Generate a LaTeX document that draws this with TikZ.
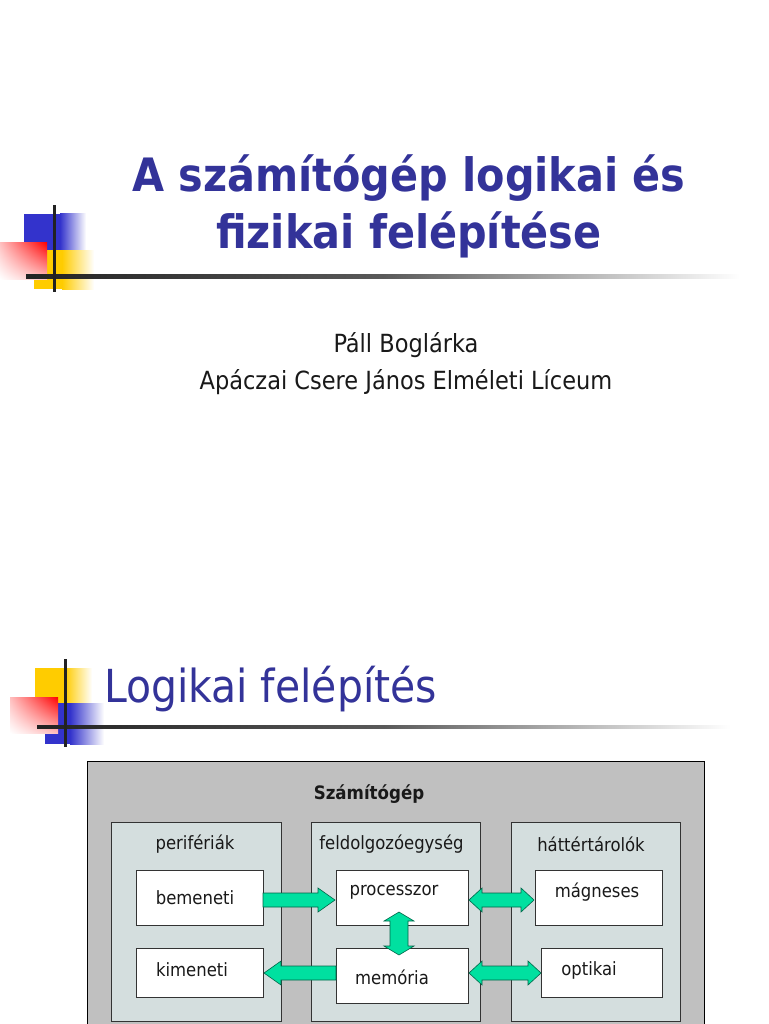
\documentclass[tikz,border=0pt]{standalone}
\usepackage{fontspec}
\setmainfont{DejaVu Sans Condensed}
\usetikzlibrary{shadings}
\definecolor{ttl}{RGB}{51,51,153}
\definecolor{bluesq}{RGB}{51,51,204}
\definecolor{yelsq}{RGB}{255,204,0}
\definecolor{grayfill}{RGB}{192,192,192}
\definecolor{panel}{RGB}{212,222,222}
\definecolor{arrowc}{RGB}{0,224,160}
\definecolor{pinkc}{RGB}{255,190,190}
\definecolor{inkc}{RGB}{34,34,34}
\tikzset{
  x=1pt,y=-1pt,
  outerbox/.style={draw=black,fill=grayfill,line width=.8pt},
  panelbox/.style={draw=black!80,fill=panel,line width=.8pt},
  itembox/.style={draw=black!80,fill=white,line width=.8pt,inner sep=0pt},
  lab/.style={inner sep=0pt,font=\fontsize{18.3}{20}\selectfont,text=black!90},
  arr/.style={draw=black!55!arrowc,fill=arrowc,line width=.6pt},
  redsq/.style={upper right=red,upper left=pinkc,lower right=pinkc,lower left=white},
}
\begin{document}
\begin{tikzpicture}
\useasboundingbox (0,0) rectangle (768,1024);
\fill[white] (0,0) rectangle (768,1024);
% top decoration
\fill[bluesq] (24,214) rectangle (60,250);
\shade[left color=bluesq,right color=white] (60,214) rectangle (86,250);
\fill[yelsq] (34,250) rectangle (62,289);
\shade[left color=yelsq,right color=white] (62,250) rectangle (94,289);
\shade[redsq] (0,242) rectangle (47,279);
\shade[left color=inkc,right color=white,middle color=black!65] (26,274) rectangle (740,278.5);
\fill[inkc] (53,205) rectangle (55.5,292);
% title
\node[font=\bfseries\fontsize{46}{57}\selectfont,text=ttl,align=center,inner sep=0pt] (title) at (409,206.5) {A számítógép logikai és\\fizikai felépítése};
\node[font=\fontsize{25}{37}\selectfont,text=black!90,align=center,inner sep=0pt] (sub) at (406,364) {Páll Boglárka\\Apáczai Csere János Elméleti Líceum};
% second decoration
\fill[yelsq] (35,668) rectangle (65,703);
\shade[left color=yelsq,right color=white] (65,668) rectangle (92,703);
\fill[bluesq] (45,703) rectangle (70,744);
\shade[left color=bluesq,right color=white] (70,703) rectangle (104,744);
\shade[redsq] (10,697) rectangle (58,733);
\shade[left color=inkc,right color=white,middle color=black!65] (37,725.5) rectangle (730,728.5);
\fill[inkc] (64,659) rectangle (66.5,747);
\node[font=\fontsize{45.5}{50}\selectfont,text=ttl,anchor=west,inner sep=0pt] (head) at (104,689) {Logikai felépítés};
% diagram
\path[outerbox] (87,761.5) rectangle (704.5,1040);
\path[panelbox] (111,822) rectangle (281,1021);
\path[panelbox] (311,822) rectangle (480.5,1021);
\path[panelbox] (511,822) rectangle (680.5,1021);
\node[lab,font=\bfseries\fontsize{18.5}{20}\selectfont] (szg) at (369,794.5) {Számítógép};
\node[lab] (per) at (195,844) {perifériák};
\node[lab] (fel) at (391.5,844) {feldolgozóegység};
\node[lab] (hat) at (591,844) {háttértárolók};
\node[itembox,minimum width=127pt,minimum height=55pt] (bem) at (199.5,897.5) {};
\node[itembox,minimum width=127pt,minimum height=49pt] (kim) at (199.5,972.5) {};
\node[itembox,minimum width=132pt,minimum height=55pt] (pro) at (402,897.5) {};
\node[itembox,minimum width=132pt,minimum height=55pt] (mem) at (402,975.5) {};
\node[itembox,minimum width=127pt,minimum height=55pt] (mag) at (598.5,897.5) {};
\node[itembox,minimum width=121pt,minimum height=49pt] (opt) at (601.5,972.5) {};
\node[lab] (tbem) at (195,898) {bemeneti};
\node[lab] (tkim) at (192,970) {kimeneti};
\node[lab] (tpro) at (394,892) {processzor};
\node[lab] (tmem) at (392,977) {memória};
\node[lab] (tmag) at (597,892) {mágneses};
\node[lab] (topt) at (589,970) {optikai};
% arrows
\draw[arr] (263,893) -- (318,893) -- (318,888) -- (335,900) -- (318,912) -- (318,907) -- (263,907) -- cycle;
\draw[arr] (336,966) -- (281,966) -- (281,961) -- (264,973) -- (281,985) -- (281,980) -- (336,980) -- cycle;
\draw[arr] (469,900) -- (482,888) -- (482,893) -- (521,893) -- (521,888) -- (534,900) -- (521,912) -- (521,907) -- (482,907) -- (482,912) -- cycle;
\draw[arr] (469,973) -- (482,961) -- (482,966) -- (528,966) -- (528,961) -- (541,973) -- (528,985) -- (528,980) -- (482,980) -- (482,985) -- cycle;
\draw[arr] (399,912) -- (414,921) -- (408,921) -- (408,946) -- (414,946) -- (399,955) -- (384,946) -- (390,946) -- (390,921) -- (384,921) -- cycle;
\end{tikzpicture}
\end{document}
